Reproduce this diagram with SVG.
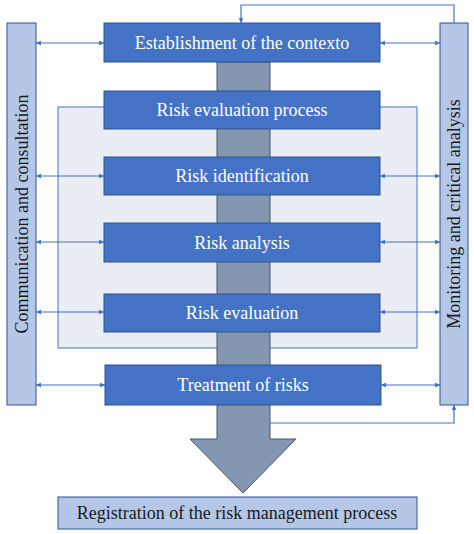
<svg xmlns="http://www.w3.org/2000/svg" width="474" height="534" viewBox="0 0 474 534">
<style>
.box{fill:#4472c4;stroke:#2f528f;stroke-width:1}
.bar{fill:#b4c7e7;stroke:#2f528f;stroke-width:1}
.t{font-family:'Liberation Serif','Times New Roman',serif;font-size:18px;fill:#fff;text-anchor:middle}
.d{font-family:'Liberation Serif','Times New Roman',serif;font-size:18px;fill:#1a1a1a;text-anchor:middle}
.c{fill:none;stroke:#4472c4;stroke-width:1.2}
</style>
<defs>
<marker id="ah" viewBox="0 0 10 10" refX="9" refY="5" markerWidth="6" markerHeight="6" orient="auto-start-reverse" markerUnits="userSpaceOnUse">
<path d="M0,1 L10,5 L0,9 z" fill="#4472c4"/>
</marker>
</defs>
<rect width="474" height="534" fill="#fff"/>
<g id="panel"><rect x="58" y="107" width="359" height="241" fill="#eaedf3" stroke="#4472c4" stroke-width="1"/></g>
<g id="flow-arrow"><path d="M217,62 H270 V439 H296 L243,493 L190,439 H217 Z" fill="#8497b0" stroke="#44546a" stroke-width="1"/></g>
<g id="comm"><rect class="bar" x="7" y="23" width="29" height="382"/><text class="d" transform="translate(27.5,214) rotate(-90)">Communication and consultation</text></g>
<g id="monitor"><rect class="bar" x="440" y="23" width="28" height="382"/><text class="d" transform="translate(460,214) rotate(-90)">Monitoring and critical analysis</text></g>
<g id="context"><rect class="box" x="104" y="23" width="276" height="39"/><text class="t" x="242" y="48.5">Establishment of the contexto</text></g>
<g id="process"><rect class="box" x="104" y="91" width="276" height="38"/><text class="t" x="242" y="116">Risk evaluation process</text></g>
<g id="ident"><rect class="box" x="104" y="157" width="276" height="38"/><text class="t" x="242" y="182">Risk identification</text></g>
<g id="analysis"><rect class="box" x="104" y="223" width="276" height="39"/><text class="t" x="242" y="248.5">Risk analysis</text></g>
<g id="evaluation"><rect class="box" x="104" y="294" width="276" height="38"/><text class="t" x="242" y="319">Risk evaluation</text></g>
<g id="treatment"><rect class="box" x="105" y="365" width="276" height="40"/><text class="t" x="243" y="391">Treatment of risks</text></g>
<g id="registration"><rect class="bar" x="58" y="497" width="359" height="32"/><text class="d" x="237" y="519">Registration of the risk management process</text></g>
<g id="connectors">
<line class="c" x1="36" y1="43" x2="104" y2="43" marker-start="url(#ah)" marker-end="url(#ah)"/>
<line class="c" x1="36" y1="176" x2="104" y2="176" marker-start="url(#ah)" marker-end="url(#ah)"/>
<line class="c" x1="36" y1="242" x2="104" y2="242" marker-start="url(#ah)" marker-end="url(#ah)"/>
<line class="c" x1="36" y1="312" x2="104" y2="312" marker-start="url(#ah)" marker-end="url(#ah)"/>
<line class="c" x1="36" y1="385" x2="105" y2="385" marker-start="url(#ah)" marker-end="url(#ah)"/>
<line class="c" x1="380" y1="43" x2="440" y2="43" marker-start="url(#ah)" marker-end="url(#ah)"/>
<line class="c" x1="380" y1="176" x2="440" y2="176" marker-start="url(#ah)" marker-end="url(#ah)"/>
<line class="c" x1="380" y1="242" x2="440" y2="242" marker-start="url(#ah)" marker-end="url(#ah)"/>
<line class="c" x1="380" y1="312" x2="440" y2="312" marker-start="url(#ah)" marker-end="url(#ah)"/>
<line class="c" x1="381" y1="385" x2="440" y2="385" marker-start="url(#ah)" marker-end="url(#ah)"/>
<path class="c" d="M270,423 H454 V405" marker-end="url(#ah)"/>
<path class="c" d="M454,23 V5 H241 V23" marker-end="url(#ah)"/>
</g>
</svg>
